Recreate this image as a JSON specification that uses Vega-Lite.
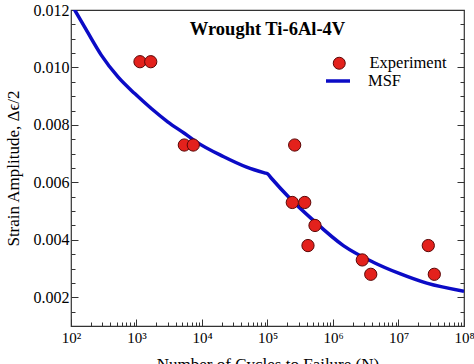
{
  "$schema": "https://vega.github.io/schema/vega-lite/v6.json",
  "width": 393,
  "height": 316,
  "autosize": {"type": "none"},
  "padding": {"left": 71, "top": 10, "right": 10, "bottom": 38},
  "background": "white",
  "config": {
    "view": {"stroke": "#333", "strokeWidth": 1.2},
    "font": "Liberation Serif",
    "axis": {"grid": false, "domain": false, "tickColor": "#333", "tickWidth": 1, "labelColor": "black", "titleColor": "black", "labelFont": "Liberation Serif", "titleFont": "Liberation Serif", "titleFontWeight": "normal"}
  },
  "title": {"text": "Wrought Ti-6Al-4V", "font": "Liberation Serif", "fontSize": 18.5, "fontWeight": "bold", "color": "black", "anchor": "middle", "offset": -36},
  "datasets": {
    "exp": [
      {"N": 1130, "s": 0.0102}, {"N": 1650, "s": 0.0102},
      {"N": 5370, "s": 0.0073}, {"N": 7360, "s": 0.0073},
      {"N": 260000, "s": 0.0073}, {"N": 239000, "s": 0.0053},
      {"N": 370000, "s": 0.0053}, {"N": 531000, "s": 0.0045},
      {"N": 415000, "s": 0.0038}, {"N": 2800000, "s": 0.0033},
      {"N": 3770000, "s": 0.0028}, {"N": 28500000, "s": 0.0038},
      {"N": 35200000, "s": 0.0028}
    ],
    "msf": [
      {"N": 100, "s": 0.01222}, {"N": 114, "s": 0.0120}, {"N": 182, "s": 0.0112},
      {"N": 290, "s": 0.01043}, {"N": 522, "s": 0.00967}, {"N": 940, "s": 0.00909},
      {"N": 1683, "s": 0.00857}, {"N": 3027, "s": 0.0081}, {"N": 5445, "s": 0.0077},
      {"N": 8180, "s": 0.00741}, {"N": 21100, "s": 0.0069}, {"N": 48100, "s": 0.00653},
      {"N": 90000, "s": 0.00633}, {"N": 100000, "s": 0.0063}, {"N": 112000, "s": 0.00617},
      {"N": 221000, "s": 0.00544}, {"N": 473000, "s": 0.00473}, {"N": 1440000, "s": 0.0038},
      {"N": 4120000, "s": 0.00322}, {"N": 10500000, "s": 0.00282}, {"N": 27000000, "s": 0.00249},
      {"N": 100000000, "s": 0.00221}
    ]
  },
  "resolve": {"axis": {"y": "independent"}},
  "layer": [
    {
      "data": {"name": "msf"},
      "mark": {"type": "line", "strokeWidth": 3.5, "interpolate": "monotone", "clip": true},
      "encoding": {
        "x": {
          "field": "N", "type": "quantitative",
          "scale": {"type": "log", "domain": [100, 100000000]},
          "axis": {
            "values": [100,200,300,400,500,600,700,800,900,1000,2000,3000,4000,5000,6000,7000,8000,9000,10000,20000,30000,40000,50000,60000,70000,80000,90000,100000,200000,300000,400000,500000,600000,700000,800000,900000,1000000,2000000,3000000,4000000,5000000,6000000,7000000,8000000,9000000,10000000,20000000,30000000,40000000,50000000,60000000,70000000,80000000,90000000,100000000],
            "labelExpr": "abs(log(datum.value)/LN10 - round(log(datum.value)/LN10)) < 0.001 ? '10' + ['⁰','¹','²','³','⁴','⁵','⁶','⁷','⁸'][round(log(datum.value)/LN10)] : ''",
            "tickSize": {"condition": {"test": "abs(log(datum.value)/LN10 - round(log(datum.value)/LN10)) < 0.001", "value": -7}, "value": -4},
            "labelFont": "Liberation Serif", "labelFontSize": 15, "labelPadding": 11, "labelFlush": false, "labelOverlap": false,
            "title": "Number of Cycles to Failure (N)", "titleFont": "Liberation Serif", "titleFontWeight": "normal", "titleFontSize": 17, "titlePadding": 8
          }
        },
        "y": {
          "field": "s", "type": "quantitative",
          "scale": {"domain": [0.001, 0.012]},
          "axis": {
            "values": [0.001,0.0015,0.002,0.0025,0.003,0.0035,0.004,0.0045,0.005,0.0055,0.006,0.0065,0.007,0.0075,0.008,0.0085,0.009,0.0095,0.01,0.0105,0.011,0.0115,0.012],
            "labelExpr": "datum.value > 0.0015 && abs(datum.value*500 - round(datum.value*500)) < 0.01 ? format(datum.value, '.3f') : ''",
            "tickSize": {"condition": {"test": "datum.value > 0.0015 && abs(datum.value*500 - round(datum.value*500)) < 0.01", "value": -7}, "value": -4},
            "labelFont": "Liberation Serif", "labelFontSize": 16, "labelPadding": 9, "labelFlush": false, "labelOverlap": false,
            "title": "Strain Amplitude, Δϵ/2", "titleFont": "Liberation Serif", "titleFontWeight": "normal", "titleFontSize": 17, "titlePadding": 11
          }
        },
        "stroke": {
          "datum": "MSF",
          "scale": {"range": ["#0b0bc6"]},
          "legend": {"orient": "none", "legendX": 253, "legendY": 57, "title": null, "symbolType": "stroke", "symbolSize": 576, "symbolStrokeWidth": 3.5, "labelFontSize": 16.5, "labelFont": "Liberation Serif", "labelColor": "black", "labelOffset": 16, "padding": 0}
        }
      }
    },
    {
      "data": {"name": "exp"},
      "mark": {"type": "point", "filled": true, "opacity": 1, "size": 150, "stroke": "#5a0606", "strokeWidth": 1},
      "encoding": {
        "x": {"field": "N", "type": "quantitative"},
        "y": {
          "field": "s", "type": "quantitative",
          "axis": {
            "orient": "right",
            "values": [0.001,0.0015,0.002,0.0025,0.003,0.0035,0.004,0.0045,0.005,0.0055,0.006,0.0065,0.007,0.0075,0.008,0.0085,0.009,0.0095,0.01,0.0105,0.011,0.0115,0.012],
            "labels": false, "title": null,
            "tickSize": {"condition": {"test": "datum.value > 0.0015 && abs(datum.value*500 - round(datum.value*500)) < 0.01", "value": -7}, "value": -4}
          }
        },
        "fill": {
          "datum": "Experiment",
          "scale": {"range": ["#e3211c"]},
          "legend": {"orient": "none", "legendX": 260, "legendY": 45, "title": null, "symbolType": "circle", "symbolSize": 144, "symbolStrokeColor": "#5a0606", "symbolStrokeWidth": 1, "symbolOpacity": 1, "labelFontSize": 16.5, "labelFont": "Liberation Serif", "labelColor": "black", "labelOffset": 22, "padding": 0}
        }
      }
    }
  ]
}
